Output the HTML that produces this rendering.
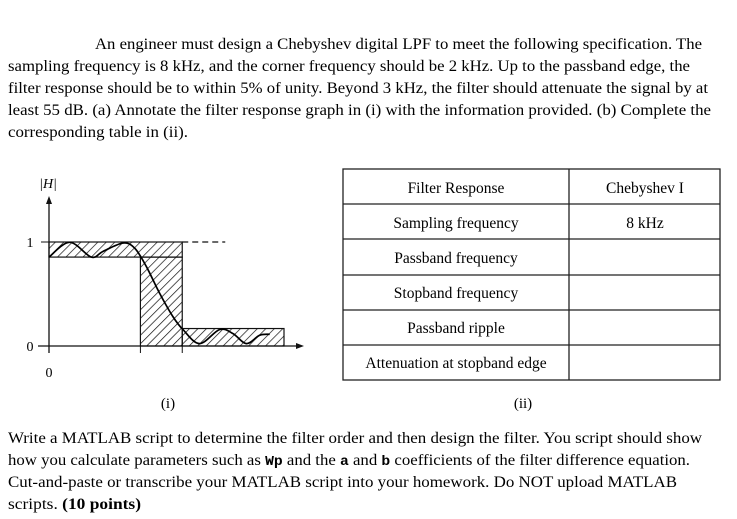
<!DOCTYPE html>
<html><head><meta charset="utf-8"><style>
html,body{margin:0;padding:0;background:#fff;}
svg{display:block;font-family:"Liberation Serif",serif;}
</style></head><body>
<svg width="737" height="519" viewBox="0 0 737 519">
<defs>
<pattern id="hatch" patternUnits="userSpaceOnUse" width="6" height="6" patternTransform="rotate(45)">
<line x1="0" y1="0" x2="0" y2="6" stroke="#111" stroke-width="1.4"/>
</pattern>
</defs>
<g font-size="16" fill="#000">
<text x="95" y="49" textLength="607" lengthAdjust="spacingAndGlyphs">An engineer must design a Chebyshev digital LPF to meet the following specification. The</text>
<text x="8" y="71" textLength="682" lengthAdjust="spacingAndGlyphs">sampling frequency is 8 kHz, and the corner frequency should be 2 kHz. Up to the passband edge, the</text>
<text x="8" y="93" textLength="700" lengthAdjust="spacingAndGlyphs">filter response should be to within 5% of unity. Beyond 3 kHz, the filter should attenuate the signal by at</text>
<text x="8" y="115" textLength="703" lengthAdjust="spacingAndGlyphs">least 55 dB.  (a) Annotate the filter response graph in (i) with the information provided. (b) Complete the</text>
<text x="8" y="137" textLength="180" lengthAdjust="spacingAndGlyphs">corresponding table in (ii).</text>
</g>
<g id="chart"></g>
<g font-size="15.5" fill="#000" text-anchor="middle">
<rect x="343" y="169" width="377" height="211" fill="none" stroke="#222" stroke-width="1.3"/>
<line x1="569" y1="169" x2="569" y2="380" stroke="#222" stroke-width="1.3"/>
<line x1="343" y1="204" x2="720" y2="204" stroke="#222" stroke-width="1.3"/>
<line x1="343" y1="239" x2="720" y2="239" stroke="#222" stroke-width="1.3"/>
<line x1="343" y1="275" x2="720" y2="275" stroke="#222" stroke-width="1.3"/>
<line x1="343" y1="310" x2="720" y2="310" stroke="#222" stroke-width="1.3"/>
<line x1="343" y1="345" x2="720" y2="345" stroke="#222" stroke-width="1.3"/>
<text x="456" y="193">Filter Response</text>
<text x="645" y="193">Chebyshev I</text>
<text x="456" y="228">Sampling frequency</text>
<text x="645" y="228">8 kHz</text>
<text x="456" y="263">Passband frequency</text>
<text x="456" y="298">Stopband frequency</text>
<text x="456" y="333">Passband ripple</text>
<text x="456" y="368">Attenuation at stopband edge</text>
</g>
<text x="168" y="408" font-size="15" text-anchor="middle">(i)</text>
<text x="523" y="408" font-size="15" text-anchor="middle">(ii)</text>
<g font-size="16" fill="#000">
<text x="8" y="443" textLength="694" lengthAdjust="spacingAndGlyphs">Write a MATLAB script to determine the filter order and then design the filter. You script should show</text>
<text x="8" y="465" textLength="682" lengthAdjust="spacingAndGlyphs">how you calculate parameters such as <tspan font-family="Liberation Mono,monospace" font-weight="bold" font-size="14">Wp</tspan> and the <tspan font-family="Liberation Mono,monospace" font-weight="bold" font-size="14">a</tspan> and <tspan font-family="Liberation Mono,monospace" font-weight="bold" font-size="14">b</tspan> coefficients of the filter difference equation.</text>
<text x="8" y="487" textLength="669" lengthAdjust="spacingAndGlyphs">Cut-and-paste or transcribe your MATLAB script into your homework. Do NOT upload MATLAB</text>
<text x="8" y="509" textLength="133" lengthAdjust="spacingAndGlyphs">scripts.  <tspan font-weight="bold">(10 points)</tspan></text>
</g>
</svg>
<script>
const freqs = [0, 0.088, 0.18, 0.23, 0.315, 0.365, 0.414, 0.471, 0.528, 0.57, 0.641, 0.726, 0.783, 0.84, 0.896, 0.939];
const mags  = [0.855, 0.997, 0.855, 0.91, 0.99, 0.94, 0.765, 0.506, 0.28, 0.158, 0.023, 0.158, 0.119, 0.023, 0.103, 0.113];
const passbandEdge = 0.389;
const stopbandEdge = 0.567;
const passbandLow = 0.855;
const stopbandHigh = 0.168;
const yTicks = [0, 1];
const xTicks = [0];

const NS = "http://www.w3.org/2000/svg";
const X0 = 49, X1 = 284, Y0 = 346, Y1 = 242;
const sx = f => X0 + f * (X1 - X0);
const sy = h => Y0 - h * (Y0 - Y1);
const g = document.getElementById('chart');
function mk(tag, attrs) {
  const e = document.createElementNS(NS, tag);
  for (const k in attrs) e.setAttribute(k, attrs[k]);
  g.appendChild(e);
  return e;
}
let e;
e = mk('rect', {x: sx(0), y: sy(1), width: sx(stopbandEdge) - sx(0), height: sy(passbandLow) - sy(1), fill: 'url(#hatch)', stroke: '#111', 'stroke-width': 1.2});


e = mk('rect', {x: sx(passbandEdge), y: sy(passbandLow), width: sx(stopbandEdge) - sx(passbandEdge), height: sy(0) - sy(passbandLow), fill: 'url(#hatch)', stroke: '#111', 'stroke-width': 1.2});


e = mk('rect', {x: sx(stopbandEdge), y: sy(stopbandHigh), width: sx(1) - sx(stopbandEdge), height: sy(0) - sy(stopbandHigh), fill: 'url(#hatch)', stroke: '#111', 'stroke-width': 1.2});


e = mk('line', {x1: sx(stopbandEdge), y1: sy(1), x2: sx(0.75), y2: sy(1), stroke: '#111', 'stroke-width': 1.3, 'stroke-dasharray': '6,4'});


e = mk('line', {x1: 38, y1: sy(0), x2: 300, y2: sy(0), stroke: '#111', 'stroke-width': 1.3});


e = mk('polygon', {points: '304,346 296,343 296,349', fill: '#111'});


e = mk('line', {x1: X0, y1: 353, x2: X0, y2: 200, stroke: '#111', 'stroke-width': 1.3});


e = mk('polygon', {points: '49,196 46,204 52,204', fill: '#111'});


[passbandEdge, stopbandEdge].forEach(f => {
  e = mk('line', {x1: sx(f), y1: sy(0), x2: sx(f), y2: sy(0) + 7, stroke: '#111', 'stroke-width': 1});
  
  
});
yTicks.forEach(t => {
  e = mk('line', {x1: X0 - 8, y1: sy(t), x2: X0, y2: sy(t), stroke: '#111', 'stroke-width': 1});
  
  
  e = mk('text', {x: 30, y: sy(t) + 5, 'font-size': 14, 'text-anchor': 'middle'});
  e.textContent = t;
  
  
});
xTicks.forEach(t => {
  e = mk('text', {x: sx(t), y: 377, 'font-size': 14, 'text-anchor': 'middle'});
  e.textContent = t;
  
  
});
e = mk('text', {x: 48, y: 188, 'font-size': 14, 'text-anchor': 'middle', 'font-style': 'italic'});
e.textContent = '|H|';


const pts = freqs.map((f, i) => [sx(f), sy(mags[i])]);
let d = 'M' + pts[0][0] + ',' + pts[0][1];
for (let i = 0; i < pts.length - 1; i++) {
  const p0 = pts[Math.max(0, i - 1)], p1 = pts[i], p2 = pts[i + 1], p3 = pts[Math.min(pts.length - 1, i + 2)];
  const c1 = [p1[0] + (p2[0] - p0[0]) / 6, p1[1] + (p2[1] - p0[1]) / 6];
  const c2 = [p2[0] - (p3[0] - p1[0]) / 6, p2[1] - (p3[1] - p1[1]) / 6];
  d += ' C' + c1 + ' ' + c2 + ' ' + p2;
}
e = mk('path', {d: d, fill: 'none', stroke: '#000', 'stroke-width': 1.7});


</script>
</body></html>
